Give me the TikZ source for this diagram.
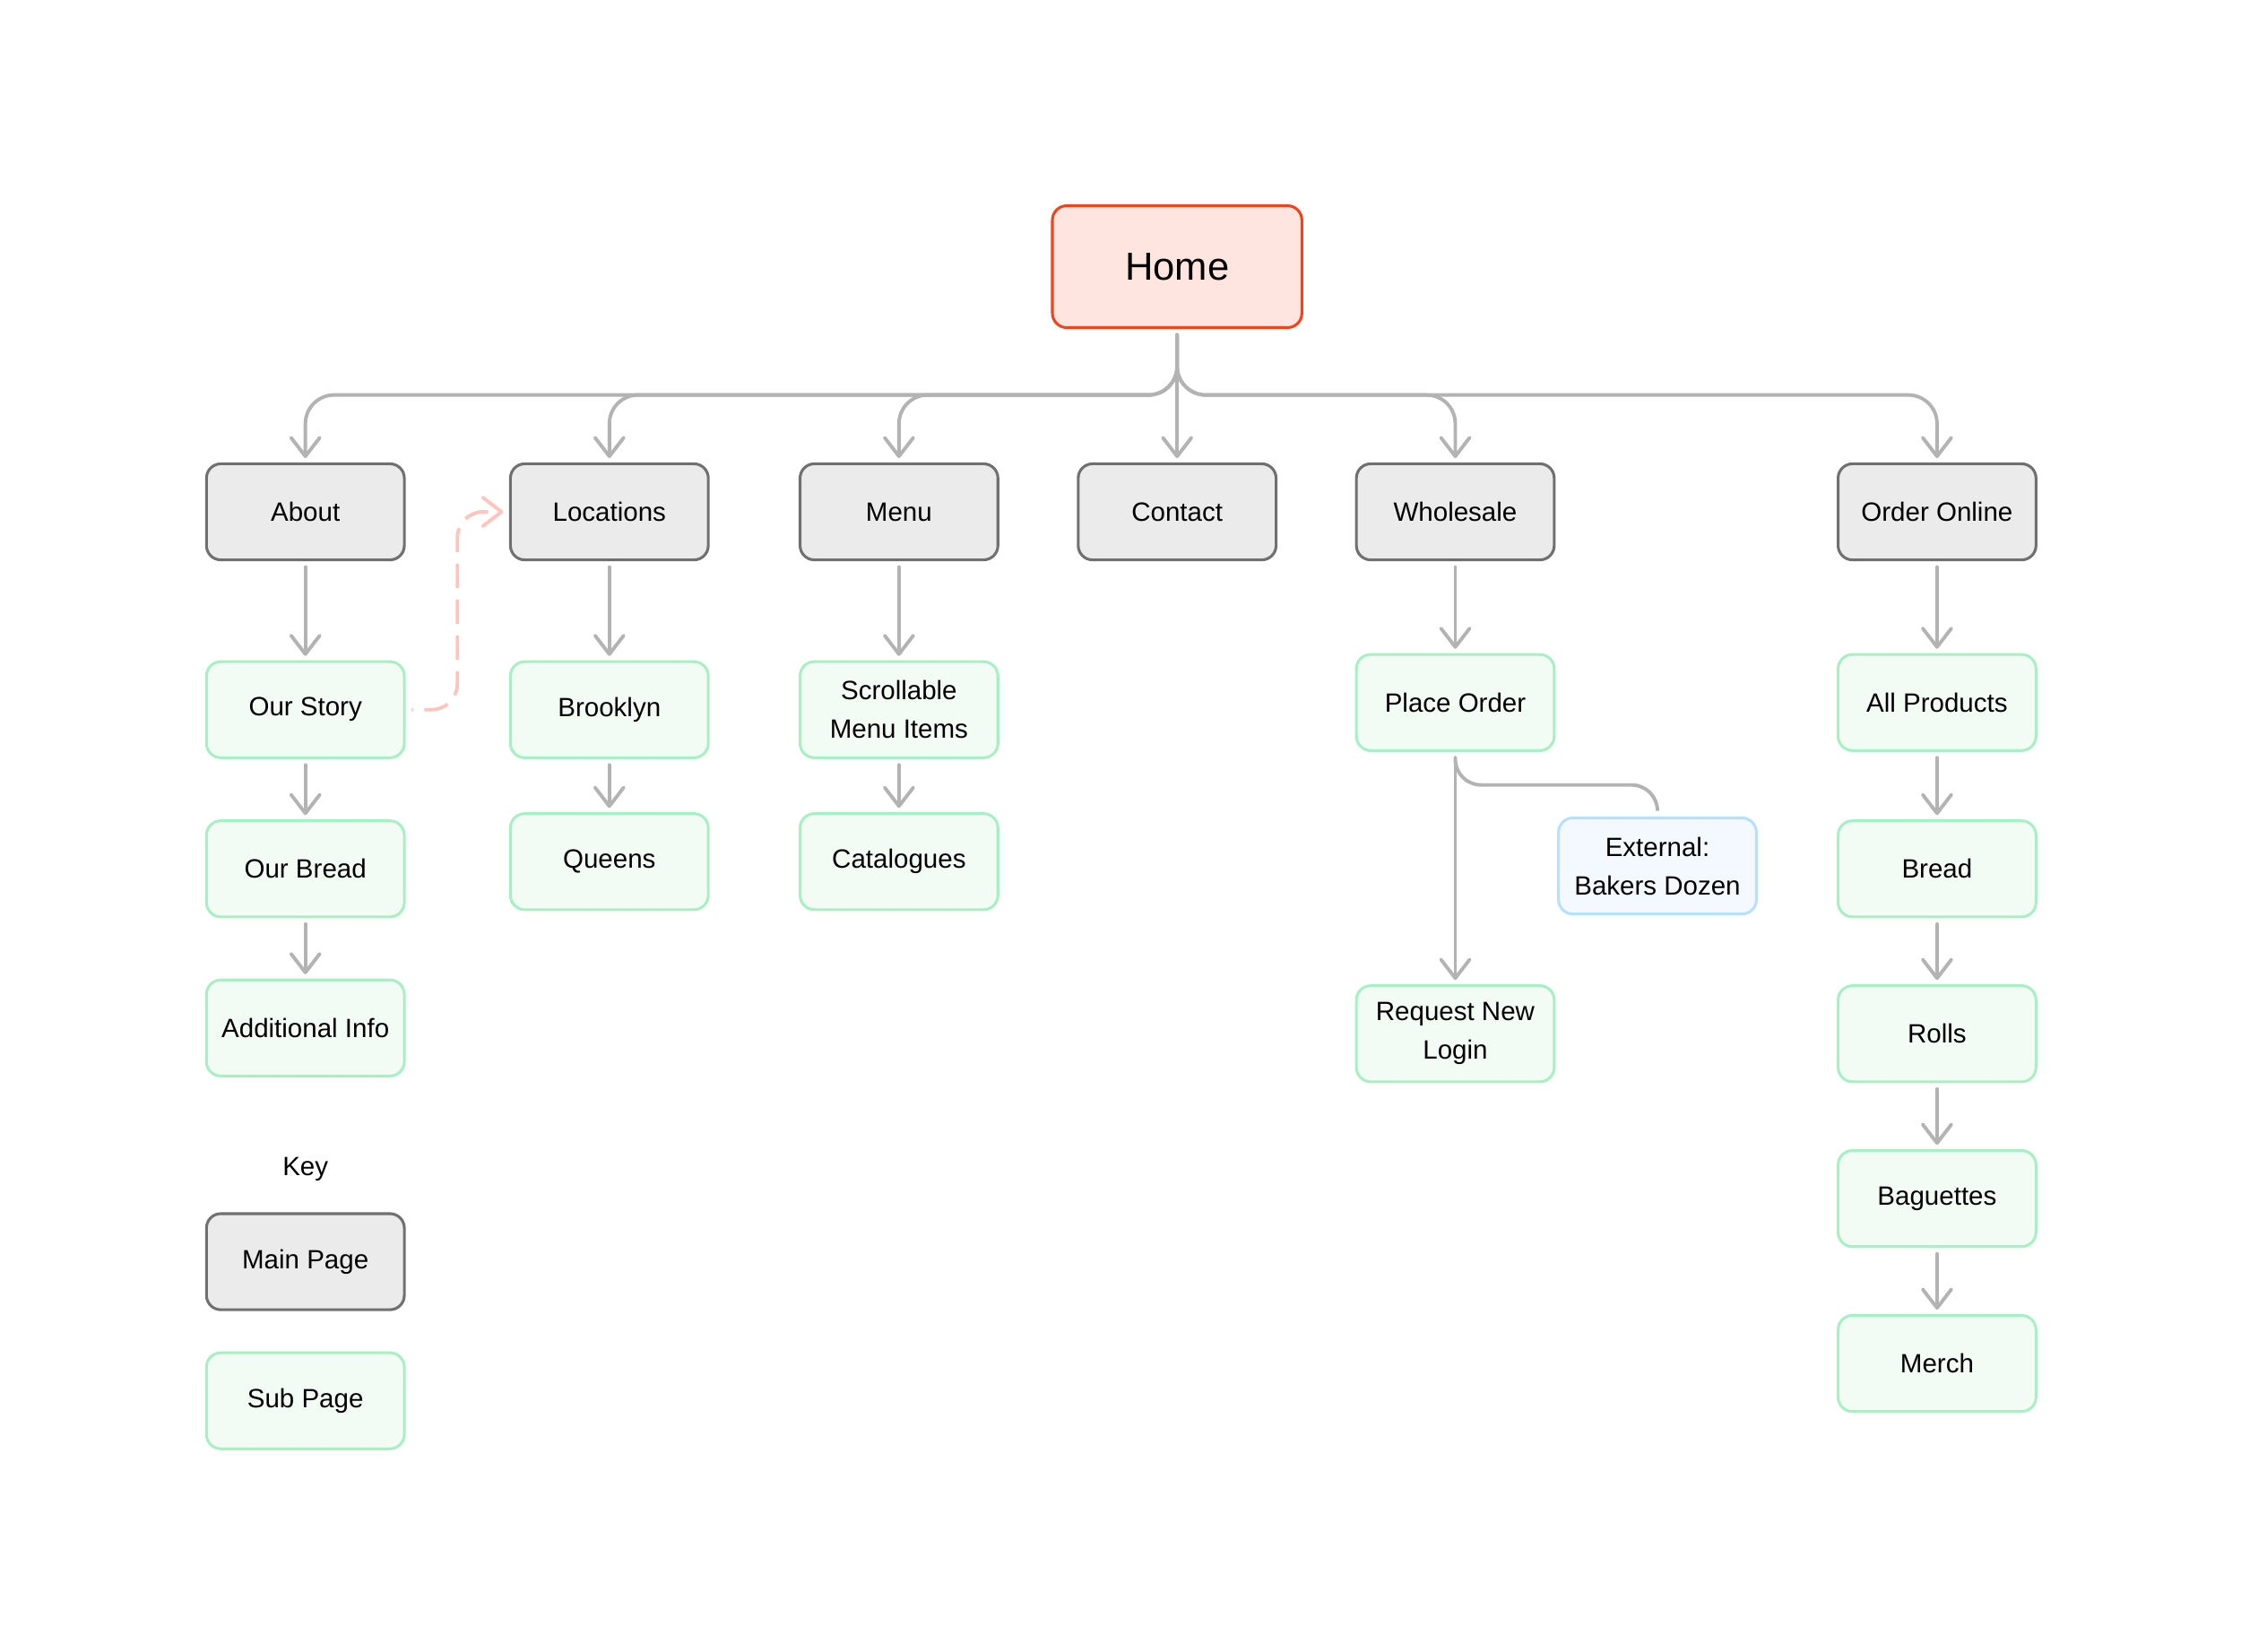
\documentclass[tikz,border=0pt]{standalone}
\usepackage{fontspec}
\setmainfont{Liberation Sans}
\usepackage{xcolor}
\usetikzlibrary{arrows.meta, calc, positioning}
\definecolor{mainfill}{HTML}{EBEBEB}
\definecolor{mainline}{HTML}{707070}
\definecolor{subfill}{HTML}{F2FCF5}
\definecolor{subline}{HTML}{A8F0C4}
\definecolor{extfill}{HTML}{F4F9FF}
\definecolor{extline}{HTML}{B8DFFF}
\definecolor{homefill}{HTML}{FFE5DF}
\definecolor{homeline}{HTML}{F2441C}
\definecolor{conngray}{HTML}{B3B3B3}
\definecolor{linkpink}{HTML}{FFC5BD}
\tikzset{> = { Straight Barb[length = 2.6mm, width = 4mm, round] }}

\begin{document}
\begin{tikzpicture}[
		page/.style = { rounded corners = 2mm, line width = 1.1pt, outer sep = 0pt, minimum width = 2.76cm, minimum height = 1.34cm, align = center, font = \fontsize{10.5}{15.4}\selectfont },
		mainpage/.style = { page, draw = mainline, fill = mainfill },
		subpage/.style = { page, draw = subline, fill = subfill },
		extpage/.style = { page, draw = extline, fill = extfill },
		conn/.style = { ->, draw = conngray, line width = 1.4pt, line cap = round, rounded corners = 4mm, shorten < = 1mm, shorten > = 0.8mm },
		link/.style = { ->, draw = linkpink, line width = 1.4pt, dash pattern = on 3.4mm off 1.6mm, dash phase = 3.2mm, rounded corners = 3.6mm, shorten < = 1mm, shorten > = 1mm }
	]
		\useasboundingbox (0,0) rectangle (31.26,-23.04);

		\node [rounded corners = 2mm, line width = 1.1pt, outer sep = 0pt, draw = homeline, fill = homefill, minimum width = 3.48cm, minimum height = 1.7cm, font = \fontsize{15.5}{18}\selectfont] (home) at (16.42,-3.72) {Home};

		% main pages
		\node [mainpage, below = 1.9 of home]          (contact)     {Contact};
		\node [mainpage, left = 1.12 of contact]       (menu)        {Menu};
		\node [mainpage, left = 1.28 of menu]          (locations)   {Locations};
		\node [mainpage, left = 1.48 of locations]     (about)       {About};
		\node [mainpage, right = 1.12 of contact]      (wholesale)   {Wholesale};
		\node [mainpage, right = 3.96 of wholesale]    (orderonline) {Order Online};

		% sub pages
		\node [subpage, below = 1.42 of about]         (ourstory)    {Our Story};
		\node [subpage, below = 0.88 of ourstory]      (ourbread)    {Our Bread};
		\node [subpage, below = 0.88 of ourbread]      (addinfo)     {Additional Info};

		\node [subpage, below = 1.42 of locations]     (brooklyn)    {Brooklyn};
		\node [subpage, below = 0.78 of brooklyn]      (queens)      {Queens};

		\node [subpage, below = 1.42 of menu]          (scrollmenu)  {Scrollable\\Menu Items};
		\node [subpage, below = 0.78 of scrollmenu]    (catalogues)  {Catalogues};

		\node [subpage, below = 1.32 of wholesale]     (placeorder)  {Place Order};
		\node [subpage, below = 3.28 of placeorder]    (newlogin)    {Request New\\Login};
		\node [extpage, below right = 0.94 and 0.06 of placeorder] (external) {External:\\Bakers Dozen};

		\node [subpage, below = 1.32 of orderonline]   (allproducts) {All Products};
		\node [subpage, below = 0.98 of allproducts]   (bread)       {Bread};
		\node [subpage, below = 0.96 of bread]         (rolls)       {Rolls};
		\node [subpage, below = 0.96 of rolls]         (baguettes)   {Baguettes};
		\node [subpage, below = 0.96 of baguettes]     (merch)       {Merch};

		% key
		\node [below = 1.3 of addinfo, anchor = center, font = \fontsize{10.5}{15.4}\selectfont] (key) {Key};
		\node [mainpage, below = 1.92 of addinfo]      (keymain)     {Main Page};
		\node [subpage, below = 0.6 of keymain]        (keysub)      {Sub Page};

		% connectors
		\coordinate (fork) at ([yshift = -0.94cm]home.south);
		\foreach \n in {about, locations, menu, wholesale, orderonline}
			\draw [conn] (home.south) -- (fork) -| (\n.north);
		\draw [conn] (home) -- (contact);

		\foreach \a/\b in {about/ourstory, ourstory/ourbread, ourbread/addinfo, locations/brooklyn, brooklyn/queens, menu/scrollmenu, scrollmenu/catalogues, wholesale/placeorder, placeorder/newlogin, orderonline/allproducts, allproducts/bread, bread/rolls, rolls/baguettes, baguettes/merch}
			\draw [conn] (\a) -- (\b);

		\coordinate (extfork) at ([yshift = -0.48cm]placeorder.south);
		\draw [conn, -, rounded corners = 3.6mm, shorten > = 1.2mm] (placeorder.south) -- (extfork) -| (external.north);

		\draw [link] (ourstory.east) -| ([xshift = 0.74cm]ourstory.east |- locations.west) -- (locations.west);
	\end{tikzpicture}
\end{document}
